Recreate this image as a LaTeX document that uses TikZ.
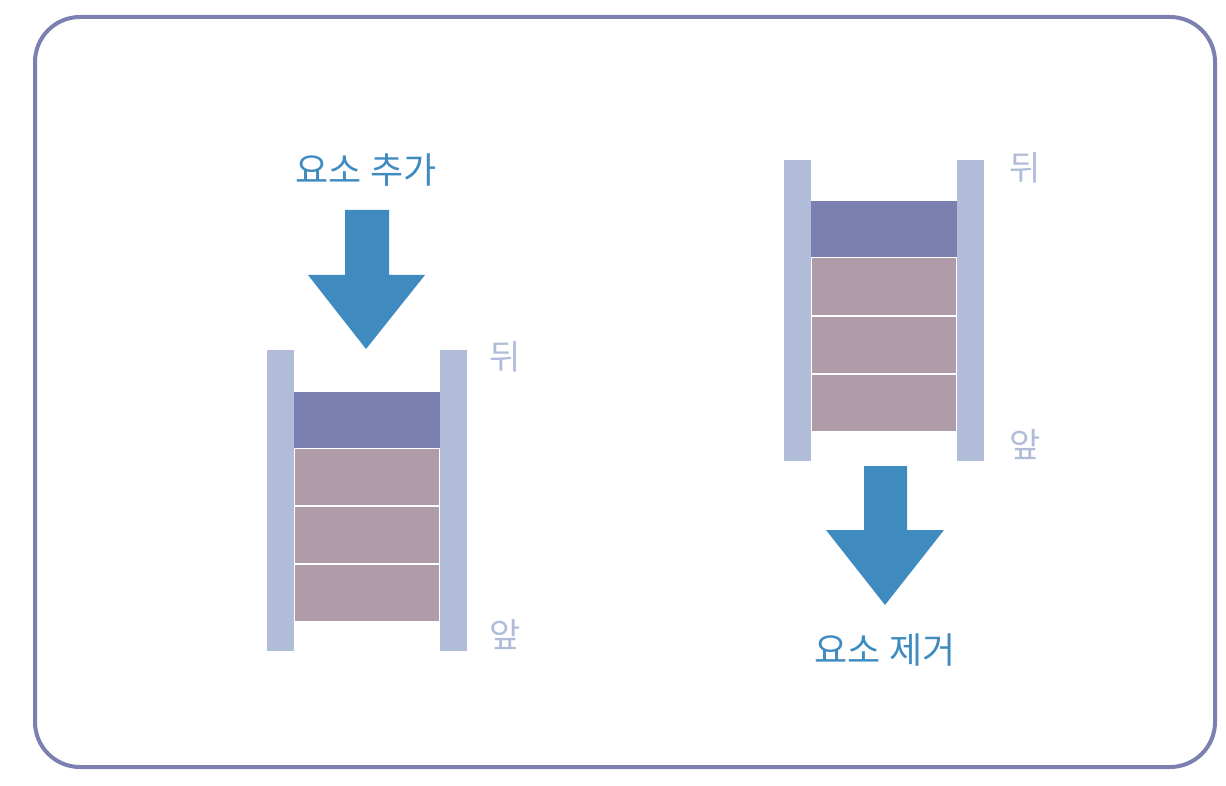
\documentclass[tikz,border=0pt]{standalone}
\usepackage{fontspec}
\newfontfamily\kr{Noto Sans CJK KR}
\definecolor{frame}{HTML}{7B80B0}
\definecolor{rail}{HTML}{B0BCD8}
\definecolor{cell}{HTML}{B09CA8}
\definecolor{arr}{HTML}{3F8BC0}
\begin{document}
\begin{tikzpicture}[x=1pt,y=-1pt,
  railbox/.style={fill=rail,draw=none},
  cellbox/.style={fill=cell,draw=white,line width=1.5pt},
  topbox/.style={fill=frame,draw=none},
  sidelbl/.style={font=\kr\fontsize{34}{34}\selectfont,text=rail,inner sep=0pt},
  mainlbl/.style={font=\kr\fontsize{36}{36}\selectfont,text=arr,inner sep=0pt}]
\useasboundingbox (0,0) rectangle (1226,786);
\draw[frame,line width=4pt,rounded corners=45pt] (35,17) rectangle (1215,767);
% left queue
\foreach \a/\b in {448/506,506/564,564/622}{\draw[cellbox] (294,\a) rectangle (440,\b);}
\fill[topbox] (294,392) rectangle (440,448);
\fill[railbox] (267,350) rectangle (294,651);
\fill[railbox] (440,350) rectangle (467,651);
\fill[arr] (345,210) -- (389,210) -- (389,275) -- (425,275) -- (366,349) -- (308,275) -- (345,275) -- cycle;
\node[mainlbl] (addl) at (366,170) {요소 추가};
\node[sidelbl] (lb) at (505,357) {뒤};
\node[sidelbl] (lf) at (505,635) {앞};
% right queue
\foreach \a/\b in {257/316,316/374,374/432}{\draw[cellbox] (811,\a) rectangle (957,\b);}
\fill[topbox] (811,201) rectangle (957,257);
\fill[railbox] (784,160) rectangle (811,461);
\fill[railbox] (957,160) rectangle (984,461);
\fill[arr] (864,466) -- (907,466) -- (907,530) -- (944,530) -- (885,605) -- (826,530) -- (864,530) -- cycle;
\node[mainlbl] (reml) at (885,650) {요소 제거};
\node[sidelbl] (rb) at (1025,168) {뒤};
\node[sidelbl] (rf) at (1025,445) {앞};
\end{tikzpicture}
\end{document}
